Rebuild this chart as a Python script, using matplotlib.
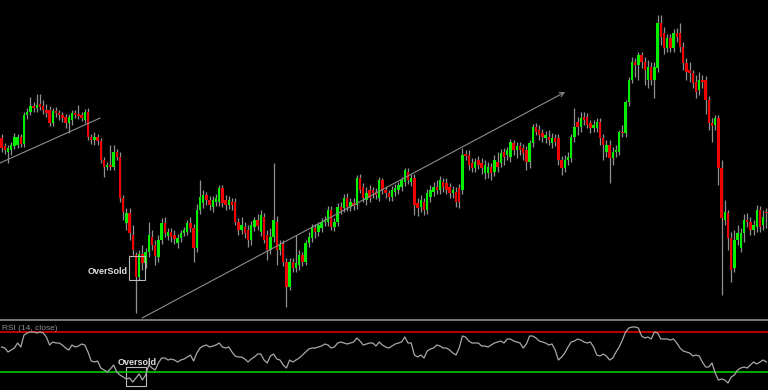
import matplotlib
matplotlib.use("Agg")
import matplotlib.pyplot as plt
from matplotlib.patches import Rectangle
import numpy as np

matplotlib.rcParams["font.family"] = ["Liberation Sans", "DejaVu Sans"]

# OHLC (arbitrary price units, one entry per candle)
opens = [
    182, 174, 168, 170, 174, 175, 183, 176, 205, 208,
    214, 212, 216, 214, 210, 210, 197, 209, 207, 205,
    203, 197, 200, 207, 206, 205, 200, 208, 183, 180,
    183, 179, 160, 153, 155, 153, 168, 163, 122, 97,
    107, 85, 65, 43, 66, 57, 68, 83, 75, 63,
    80, 97, 84, 88, 85, 77, 82, 87, 88, 97,
    92, 72, 110, 117, 125, 120, 113, 118, 118, 132,
    120, 115, 118, 118, 98, 90, 93, 90, 80, 93,
    100, 88, 103, 85, 70, 83, 98, 70, 76, 58,
    33, 58, 52, 55, 65, 58, 77, 82, 92, 88,
    92, 98, 98, 110, 93, 98, 113, 112, 122, 113,
    117, 115, 142, 133, 120, 130, 130, 128, 122, 140,
    130, 127, 123, 128, 130, 133, 138, 148, 138, 142,
    117, 113, 118, 110, 123, 128, 133, 130, 138, 137,
    133, 127, 128, 132, 130, 166, 165, 157, 152, 160,
    157, 147, 147, 153, 148, 158, 157, 168, 165, 163,
    177, 170, 174, 172, 170, 158, 177, 193, 190, 187,
    182, 183, 177, 182, 182, 160, 152, 160, 162, 183,
    198, 193, 203, 203, 197, 192, 192, 198, 182, 168,
    175, 162, 168, 168, 188, 187, 218, 240, 258, 255,
    265, 258, 240, 253, 240, 252, 297, 287, 272, 282,
    272, 287, 287, 273, 257, 250, 247, 238, 230, 240,
    240, 220, 197, 195, 202, 152, 100, 107, 82, 52,
    80, 72, 87, 100, 98, 90, 93, 110, 95, 108,
]
closes = [
    172, 170, 172, 175, 183, 183, 176, 205, 208, 214,
    212, 215, 213, 210, 207, 197, 209, 207, 205, 202,
    197, 203, 207, 205, 204, 202, 208, 183, 180, 183,
    179, 160, 153, 155, 153, 168, 163, 122, 108, 107,
    87, 70, 43, 66, 57, 68, 85, 75, 64, 80,
    97, 87, 88, 83, 81, 82, 87, 90, 97, 92,
    72, 110, 123, 125, 120, 115, 120, 122, 132, 117,
    115, 120, 115, 98, 90, 95, 87, 80, 95, 100,
    94, 105, 80, 70, 83, 100, 70, 76, 58, 33,
    58, 52, 57, 65, 58, 77, 83, 92, 88, 95,
    98, 100, 110, 93, 98, 113, 110, 122, 113, 118,
    114, 142, 130, 122, 127, 122, 127, 125, 140, 130,
    127, 123, 130, 132, 135, 140, 150, 140, 142, 115,
    112, 120, 110, 127, 130, 133, 130, 140, 133, 130,
    127, 130, 118, 118, 165, 164, 155, 152, 158, 155,
    152, 155, 153, 147, 160, 153, 167, 163, 170, 178,
    170, 174, 170, 167, 158, 177, 193, 188, 185, 183,
    185, 180, 182, 178, 160, 152, 160, 163, 183, 193,
    193, 202, 200, 195, 192, 195, 198, 182, 175, 175,
    162, 168, 170, 188, 187, 218, 240, 258, 255, 265,
    258, 250, 253, 240, 253, 297, 283, 272, 282, 272,
    287, 283, 273, 257, 248, 247, 237, 228, 240, 238,
    220, 197, 194, 202, 152, 102, 108, 82, 50, 80,
    87, 87, 100, 98, 90, 95, 110, 93, 103, 107,
]
highs = [
    186, 177, 175, 178, 187, 186, 186, 208, 212, 223,
    218, 226, 226, 220, 216, 214, 212, 213, 210, 208,
    206, 206, 210, 210, 215, 208, 211, 212, 186, 188,
    186, 182, 163, 158, 175, 175, 171, 168, 125, 112,
    112, 95, 68, 70, 75, 72, 98, 90, 80, 85,
    102, 103, 92, 92, 90, 86, 90, 93, 100, 103,
    96, 116, 140, 130, 128, 124, 124, 126, 135, 135,
    125, 124, 122, 122, 102, 103, 98, 95, 99, 103,
    106, 110, 107, 90, 92, 157, 104, 80, 80, 62,
    62, 62, 85, 70, 68, 80, 88, 96, 96, 98,
    102, 104, 114, 114, 102, 117, 118, 126, 127, 122,
    122, 145, 146, 137, 133, 135, 133, 132, 143, 142,
    134, 130, 134, 136, 138, 143, 152, 152, 146, 146,
    122, 125, 122, 131, 135, 138, 140, 144, 142, 142,
    137, 134, 133, 136, 172, 170, 170, 162, 162, 164,
    162, 160, 158, 157, 165, 168, 171, 172, 173, 181,
    180, 178, 178, 176, 174, 180, 196, 197, 195, 191,
    189, 190, 187, 186, 186, 164, 165, 168, 186, 212,
    203, 208, 208, 207, 200, 200, 202, 202, 186, 180,
    180, 173, 175, 190, 195, 220, 243, 263, 262, 268,
    268, 263, 260, 258, 258, 305, 305, 293, 286, 286,
    291, 292, 297, 278, 262, 258, 250, 245, 248, 245,
    244, 224, 202, 205, 205, 160, 120, 110, 88, 90,
    95, 92, 106, 107, 103, 100, 115, 114, 110, 112,
]
lows = [
    168, 166, 157, 165, 171, 172, 173, 173, 201, 205,
    208, 208, 210, 206, 203, 194, 194, 203, 200, 198,
    192, 187, 195, 202, 201, 199, 197, 180, 176, 175,
    175, 157, 143, 150, 150, 150, 160, 118, 100, 90,
    80, 65, 7, 40, 50, 52, 63, 70, 55, 58,
    76, 83, 80, 78, 76, 72, 78, 84, 85, 88,
    58, 68, 106, 112, 115, 110, 108, 114, 114, 113,
    110, 111, 110, 95, 85, 86, 82, 73, 75, 89,
    90, 84, 77, 60, 66, 78, 55, 65, 54, 13,
    30, 48, 48, 50, 54, 55, 73, 78, 82, 84,
    88, 94, 94, 90, 89, 94, 106, 108, 109, 109,
    110, 111, 127, 118, 115, 118, 122, 121, 119, 126,
    122, 119, 119, 124, 126, 129, 134, 136, 134, 105,
    104, 108, 105, 106, 118, 124, 126, 126, 128, 126,
    122, 122, 113, 112, 126, 160, 150, 148, 148, 151,
    146, 141, 142, 140, 144, 148, 153, 155, 160, 158,
    165, 162, 165, 160, 150, 152, 173, 185, 180, 178,
    177, 175, 172, 174, 155, 145, 148, 155, 158, 178,
    185, 188, 195, 192, 187, 188, 188, 175, 160, 163,
    137, 155, 163, 165, 183, 183, 214, 237, 243, 240,
    252, 235, 232, 235, 222, 248, 275, 266, 268, 268,
    268, 278, 268, 250, 240, 238, 232, 222, 225, 232,
    206, 190, 178, 190, 135, 25, 95, 70, 38, 48,
    75, 68, 78, 93, 85, 85, 88, 88, 90, 92,
]
# RSI(14, close), one value per candle
rsi = [
    55, 54, 50, 52, 54, 59, 55, 67, 69, 70,
    70, 69, 70, 69, 65, 57, 60, 59, 59, 57,
    54, 52, 57, 55, 56, 58, 57, 50, 41, 40,
    41, 34, 32, 30, 33, 37, 30, 27, 25, 23,
    24, 20, 24, 28, 22, 27, 37, 34, 32, 39,
    44, 44, 42, 43, 42, 40, 42, 43, 45, 47,
    41, 49, 54, 56, 57, 55, 56, 57, 59, 55,
    54, 55, 50, 46, 45, 45, 43, 40, 43, 45,
    48, 48, 42, 39, 46, 48, 43, 42, 37, 34,
    42, 40, 42, 44, 47, 50, 53, 54, 54, 55,
    56, 58, 57, 54, 55, 59, 60, 59, 58, 59,
    60, 64, 61, 57, 58, 59, 59, 56, 60, 57,
    55, 54, 56, 58, 59, 60, 65, 59, 59, 47,
    45, 47, 44, 51, 53, 54, 57, 56, 54, 54,
    52, 49, 47, 54, 66, 65, 61, 59, 59, 59,
    56, 56, 55, 57, 59, 60, 61, 59, 63, 63,
    61, 60, 59, 54, 58, 66, 66, 64, 61, 60,
    59, 57, 58, 52, 42, 45, 49, 55, 60, 61,
    63, 62, 60, 59, 60, 55, 47, 46, 48, 46,
    42, 44, 50, 55, 62, 70, 74, 75, 75, 74,
    66, 64, 65, 63, 70, 69, 63, 63, 63, 62,
    63, 59, 54, 51, 50, 49, 46, 47, 46, 40,
    35, 35, 39, 29, 22, 23, 22, 19, 25, 27,
    32, 34, 35, 34, 37, 40, 38, 40, 42, 40,
]
RSI_OVERBOUGHT = 70
RSI_OVERSOLD = 30

BG = "black"
UP = "#00f000"
DOWN = "#f00000"
WICK = "#909090"
GREY = "#8c8c8c"

o = np.array(opens, dtype=float)
c = np.array(closes, dtype=float)
h = np.array(highs, dtype=float)
l = np.array(lows, dtype=float)
idx = np.arange(len(o))

fig = plt.figure(figsize=(7.68, 3.90), dpi=100, facecolor=BG)
ax = fig.add_axes([0, 0.182, 1, 0.818], facecolor=BG)
ax_rsi = fig.add_axes([0, 0, 1, 0.182], facecolor=BG)

for a in (ax, ax_rsi):
    a.set_xlim(-0.5, len(o) - 0.5)
    a.set_xticks([])
    a.set_yticks([])
    for s in a.spines.values():
        s.set_visible(False)

# --- candles ---
colors = np.where(c >= o, UP, DOWN)
body_lo = np.minimum(o, c)
body_h = np.maximum(np.abs(c - o), 1.2)
ax.vlines(idx, l, h, color=WICK, lw=0.9, zorder=1)
ax.bar(idx, body_h, bottom=body_lo, width=0.7, color=colors, lw=0, zorder=2)
ax.set_ylim(1, 320)

# trend lines
ax.plot([-0.5, 30.8], [157, 202], color=GREY, lw=0.8, zorder=3)
ax.annotate("", xy=(176.1, 228), xytext=(43.9, 2),
            arrowprops=dict(arrowstyle="->", color=GREY, lw=0.8,
                            mutation_scale=8, shrinkA=0, shrinkB=0),
            zorder=3)

# oversold marker on price
ax.add_patch(Rectangle((39.8, 40), 5.0, 24, fill=False, ec="#bbbbbb", lw=0.8, zorder=4))
ax.text(39.3, 49, "OverSold", color="#e0e0e0", fontsize=6.5, ha="right", va="center",
        fontweight="bold")

# --- RSI panel ---
ax_rsi.set_ylim(12, 83)
ax_rsi.axhline(82.5, color=GREY, lw=1.2)
ax_rsi.axhline(RSI_OVERBOUGHT, color="#e00000", lw=1.2)
ax_rsi.axhline(RSI_OVERSOLD, color="#00cc00", lw=1.2)
ax_rsi.plot(idx, rsi, color="#a8a8a8", lw=0.9)
ax_rsi.text(0.002, 0.86, "RSI (14, close)", transform=ax_rsi.transAxes,
            color="#909090", fontsize=6, ha="left", va="center")
ax_rsi.add_patch(Rectangle((38.9, 16), 6.2, 19, fill=False, ec="#bbbbbb", lw=0.8))
ax_rsi.text(42.2, 40, "Oversold", color="#e0e0e0", fontsize=6.5, ha="center",
            va="center", fontweight="bold")

fig.savefig("out.png", dpi=100, facecolor=BG)
